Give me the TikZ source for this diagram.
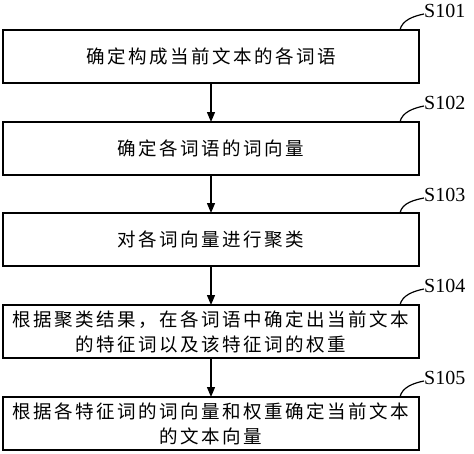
\documentclass[tikz,border=0pt]{standalone}
\usepackage{fontspec}
\setmainfont{Liberation Serif}
\newfontfamily\cjk{Noto Sans CJK SC}
\usetikzlibrary{arrows.meta}
\newXeTeXintercharclass\cjkcls
\newskip\cjkgap
\makeatletter
\count@="4E00
\loop\ifnum\count@<"A000 \XeTeXcharclass\count@=\cjkcls \advance\count@ 1 \repeat
\makeatother
\XeTeXcharclass"FF0C=\cjkcls
\XeTeXinterchartoks\cjkcls\cjkcls={\hskip\cjkgap}
\XeTeXinterchartokenstate=1
\newcommand\boxcjk{\cjk\fontsize{18.5}{25}\selectfont\cjkgap=2.5pt\relax}
\begin{document}
\begin{tikzpicture}[x=1pt,y=-1pt,
  box/.style={draw,line width=1.6pt,minimum width=416pt,minimum height=53pt,inner sep=0pt,outer sep=0pt,anchor=north west,align=center,font=\boxcjk},
  flow/.style={-{Triangle[length=10pt,width=8pt]},line width=1.3pt},
  tag/.style={font=\fontsize{20}{20}\selectfont,anchor=west,inner sep=0pt},
  lead/.style={line width=1.2pt}]
\useasboundingbox (0,0) rectangle (474,453);
\node[box] (b1) at (3,30) {确定构成当前文本的各词语};
\node[box] (b2) at (3,122) {确定各词语的词向量};
\node[box] (b3) at (3,213) {对各词向量进行聚类};
\node[box] (b4) at (3,305) {根据聚类结果，在各词语中确定出当前文本\\的特征词以及该特征词的权重};
\node[box] (b5) at (3,397) {根据各特征词的词向量和权重确定当前文本\\的文本向量};
\node[tag] (t1) at (424,11) {S101};
\node[tag] (t2) at (424,103) {S102};
\node[tag] (t3) at (424,195) {S103};
\node[tag] (t4) at (424,286) {S104};
\node[tag] (t5) at (424,378) {S105};
\foreach \i in {1,...,5}{
  \draw[lead] ([xshift=-19pt]b\i.north east) .. controls +(2,-10) and +(-10,2) .. ([yshift=-3pt]t\i.west);
}
\draw[flow] (b1.south) -- (b2.north);
\draw[flow] (b2.south) -- (b3.north);
\draw[flow] (b3.south) -- (b4.north);
\draw[flow] (b4.south) -- (b5.north);
\end{tikzpicture}
\end{document}
